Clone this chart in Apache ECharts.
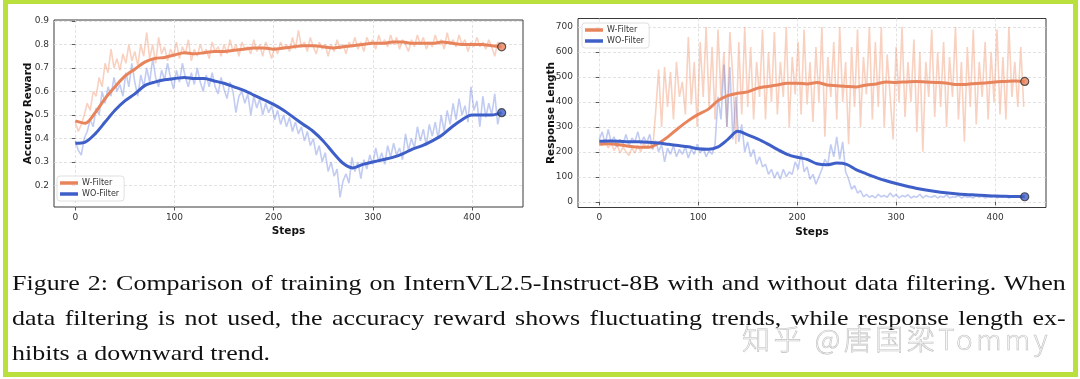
<!DOCTYPE html>
<html>
<head>
<meta charset="utf-8">
<script src="https://cdn.jsdelivr.net/npm/echarts@6/dist/echarts.min.js"></script>
<style>
html,body{margin:0;padding:0;background:#fff;}
#wrap{position:relative;width:1080px;height:379px;overflow:hidden;background:#fff;}
#chart{position:absolute;left:0;top:0;width:1080px;height:379px;}
#frame{position:absolute;left:3px;top:-1px;width:1075px;height:378px;box-sizing:border-box;border:5px solid #b9e03c;pointer-events:none;}
#caption{position:absolute;left:12px;top:265px;width:893px;transform:scaleX(1.18);transform-origin:0 0;font-family:"Liberation Serif","DejaVu Serif",serif;font-size:22px;line-height:35px;color:#111;}
#caption div{white-space:nowrap;}
#caption .j{text-align:justify;text-align-last:justify;}
#wm{position:absolute;left:742px;top:318px;font-family:"Noto Sans CJK SC",sans-serif;font-size:28px;font-weight:300;letter-spacing:3.5px;color:rgba(245,245,245,0.6);-webkit-text-stroke:0.6px rgba(140,140,140,0.55);white-space:nowrap;}
</style>
</head>
<body>
<div id="wrap">
<div id="chart"></div>
<div id="caption">
<div class="j">Figure 2: Comparison of training on InternVL2.5-Instruct-8B with and without data filtering. When</div>
<div class="j">data filtering is not used, the accuracy reward shows fluctuating trends, while response length ex-</div>
<div>hibits a downward trend.</div>
</div>
<div id="wm">知乎 @唐国梁Tommy</div>
<div id="frame"></div>
</div>
<script>
// ---------- data ----------
const RAW_STEP = 3;      // raw curves sampled every 3 steps (0..429)
const SMOOTH_STEP = 10;  // smoothed curves sampled every 10 steps (0..430)
const X_TICKS = [0, 100, 200, 300, 400];
const ACC_TICKS = [0.2, 0.3, 0.4, 0.5, 0.6, 0.7, 0.8, 0.9];
const LEN_TICKS = [0, 100, 200, 300, 400, 500, 600, 700];
const SERIES_NAMES = ['W-Filter', 'WO-Filter'];

const W_ACC_RAW = [
0.47,0.43,0.46,0.50,0.55,0.52,0.60,0.58,0.66,0.62,0.72,0.68,
0.78,0.70,0.74,0.69,0.76,0.72,0.80,0.73,0.77,0.71,0.80,0.75,
0.85,0.74,0.80,0.72,0.83,0.76,0.79,0.73,0.78,0.75,0.81,0.74,
0.79,0.76,0.82,0.73,0.78,0.75,0.80,0.76,0.78,0.74,0.81,0.77,
0.79,0.75,0.80,0.76,0.82,0.77,0.80,0.75,0.81,0.78,0.79,0.76,
0.82,0.77,0.80,0.75,0.81,0.78,0.74,0.79,0.76,0.81,0.78,0.80,
0.77,0.83,0.78,0.86,0.79,0.81,0.77,0.83,0.79,0.76,0.81,0.78,
0.80,0.75,0.80,0.77,0.82,0.78,0.80,0.76,0.81,0.79,0.83,0.78,
0.81,0.77,0.83,0.80,0.82,0.78,0.84,0.80,0.82,0.79,0.84,0.80,
0.83,0.78,0.82,0.80,0.77,0.82,0.79,0.84,0.80,0.83,0.78,0.81,
0.79,0.84,0.80,0.82,0.78,0.85,0.80,0.82,0.79,0.84,0.80,0.82,
0.77,0.81,0.79,0.83,0.79,0.81,0.78,0.82,0.79,0.75,0.81,0.80];

const WO_ACC_RAW = [
0.39,0.35,0.33,0.40,0.43,0.48,0.45,0.53,0.50,0.60,0.55,0.62,
0.58,0.66,0.60,0.63,0.58,0.68,0.62,0.72,0.64,0.58,0.67,0.62,
0.70,0.64,0.74,0.66,0.62,0.69,0.65,0.72,0.66,0.61,0.69,0.64,
0.72,0.66,0.62,0.68,0.63,0.70,0.64,0.60,0.67,0.62,0.68,0.62,
0.59,0.66,0.61,0.57,0.64,0.60,0.51,0.58,0.60,0.55,0.59,0.50,
0.58,0.53,0.57,0.50,0.55,0.51,0.54,0.48,0.52,0.46,0.50,0.45,
0.49,0.43,0.47,0.42,0.45,0.39,0.43,0.37,0.40,0.33,0.37,0.30,
0.34,0.26,0.30,0.24,0.27,0.15,0.22,0.25,0.21,0.32,0.26,0.30,
0.23,0.31,0.27,0.33,0.29,0.36,0.30,0.34,0.29,0.37,0.32,0.38,
0.33,0.36,0.31,0.42,0.35,0.40,0.36,0.45,0.39,0.44,0.37,0.46,
0.41,0.47,0.40,0.50,0.43,0.52,0.46,0.55,0.48,0.57,0.50,0.54,
0.47,0.62,0.52,0.56,0.45,0.58,0.49,0.55,0.50,0.59,0.46,0.52];

const W_ACC_SMOOTH = [
0.475,0.465,0.51,0.57,0.62,0.665,0.695,0.725,0.74,0.745,
0.755,0.765,0.76,0.765,0.77,0.77,0.775,0.78,0.785,0.785,
0.78,0.785,0.79,0.795,0.795,0.79,0.785,0.79,0.795,0.80,
0.805,0.805,0.81,0.81,0.805,0.805,0.805,0.81,0.805,0.80,
0.80,0.80,0.795,0.79];

const WO_ACC_SMOOTH = [
0.38,0.385,0.42,0.47,0.52,0.56,0.59,0.625,0.64,0.65,
0.655,0.66,0.655,0.655,0.645,0.635,0.62,0.605,0.585,0.565,
0.545,0.52,0.49,0.46,0.43,0.39,0.34,0.295,0.275,0.29,
0.30,0.31,0.32,0.335,0.355,0.37,0.39,0.415,0.45,0.48,
0.50,0.50,0.50,0.51];

const W_LEN_RAW = [
240,225,250,215,235,205,230,195,220,200,185,215,
195,225,200,235,215,240,210,360,530,300,540,380,
520,330,560,420,480,350,660,390,560,300,640,420,
700,380,620,330,690,420,600,300,680,500,230,640,
350,700,380,620,330,560,420,690,330,600,400,680,
350,560,420,700,300,580,430,640,350,690,390,560,
320,620,400,700,260,580,420,640,330,700,400,560,
230,620,380,690,300,580,430,700,330,640,380,700,
300,590,420,250,620,400,700,340,560,400,650,280,
600,200,560,420,690,340,600,380,640,300,580,420,
700,330,560,240,620,380,690,310,560,420,640,330,
600,400,690,350,580,330,700,420,560,380,620,380];

const WO_LEN_RAW = [
250,280,230,290,240,260,220,250,230,270,225,255,
240,280,230,260,235,270,210,245,200,230,160,215,
190,225,180,210,190,220,175,210,190,230,195,215,
180,205,190,230,420,330,550,300,540,250,420,240,
310,200,240,180,210,150,180,140,150,110,130,95,
120,90,130,100,120,110,160,130,200,120,140,90,
110,70,100,130,170,150,230,180,260,170,240,120,
90,50,65,35,45,20,30,18,25,15,30,20,
25,18,35,20,30,15,25,20,28,15,22,18,
30,15,25,20,18,25,15,22,18,28,15,20,
18,25,15,22,18,20,15,25,18,22,15,20,
18,25,15,20,18,22,15,20,18,22,15,20];

const W_LEN_SMOOTH = [
230,232,228,222,218,218,235,262,295,325,
350,370,405,425,435,440,455,462,468,475,
475,472,478,468,465,462,460,468,472,480,
478,480,482,480,478,476,470,470,474,476,
480,482,484,482];

const WO_LEN_SMOOTH = [
242,243,242,240,240,238,235,230,225,220,
212,210,220,250,282,268,252,232,210,190,
178,170,152,148,155,150,128,112,97,84,
73,63,54,47,41,36,32,29,27,25,
23,22,21,20];

// ---------- styling ----------
const C_W = '#E8845C', C_WO = '#3F5FC8';
const C_W_RAW = 'rgba(240,145,105,0.42)', C_WO_RAW = 'rgba(85,115,220,0.36)';
const FONT = 'DejaVu Sans';

function pts(arr, step) { return arr.map((v, i) => [i * step, v]); }
function lastPt(arr, step) { return [[(arr.length - 1) * step, arr[arr.length - 1]]]; }

function xAxisFor(gi) {
  return {
    type: 'value', gridIndex: gi, min: -21.5, max: 451.5,
    axisLine: { show: false },
    axisTick: { show: true, inside: false, length: 3.5, lineStyle: { color: '#333', width: 0.8 }, customValues: X_TICKS },
    axisLabel: { customValues: X_TICKS, fontSize: 9, color: '#333', margin: 6, fontFamily: FONT },
    splitLine: { show: true, lineStyle: { color: '#dadada', type: [3, 2], width: 0.8 } },
    name: 'Steps', nameLocation: 'middle', nameGap: 19, nameMoveOverlap: false,
    nameTextStyle: { fontWeight: 'bold', fontSize: 10.5, color: '#111', fontFamily: FONT }
  };
}
function yAxisFor(gi, min, max, ticks, name, gap, fmt) {
  return {
    type: 'value', gridIndex: gi, min: min, max: max,
    axisLine: { show: false },
    axisTick: { show: true, inside: false, length: 3.5, lineStyle: { color: '#333', width: 0.8 }, customValues: ticks },
    axisLabel: { customValues: ticks, fontSize: 9, color: '#333', margin: 5, fontFamily: FONT, formatter: fmt },
    splitLine: { show: true, lineStyle: { color: '#dadada', type: [3, 2], width: 0.8 } },
    name: name, nameLocation: 'middle', nameGap: gap, nameRotate: 90, nameMoveOverlap: false,
    nameTextStyle: { fontWeight: 'bold', fontSize: 10.5, color: '#111', fontFamily: FONT }
  };
}
function seriesFor(gi, wRaw, woRaw, wS, woS) {
  const base = { type: 'line', xAxisIndex: gi, yAxisIndex: gi, showSymbol: false, symbol: 'none', animation: false };
  return [
    Object.assign({}, base, { name: 'W-Filter raw', data: pts(wRaw, RAW_STEP), silent: true, z: 1,
      lineStyle: { color: C_W_RAW, width: 1.6 }, itemStyle: { color: C_W_RAW } }),
    Object.assign({}, base, { name: 'WO-Filter raw', data: pts(woRaw, RAW_STEP), silent: true, z: 2,
      lineStyle: { color: C_WO_RAW, width: 1.6 }, itemStyle: { color: C_WO_RAW } }),
    Object.assign({}, base, { name: SERIES_NAMES[0], data: pts(wS, SMOOTH_STEP), smooth: 0.3, z: 3,
      lineStyle: { color: C_W, width: 3 }, itemStyle: { color: C_W } }),
    Object.assign({}, base, { name: SERIES_NAMES[1], data: pts(woS, SMOOTH_STEP), smooth: 0.3, z: 4,
      lineStyle: { color: C_WO, width: 3 }, itemStyle: { color: C_WO } }),
    { type: 'scatter', xAxisIndex: gi, yAxisIndex: gi, data: lastPt(wS, SMOOTH_STEP), symbolSize: 8, z: 5,
      itemStyle: { color: C_W, borderColor: '#333', borderWidth: 1.2 }, silent: true },
    { type: 'scatter', xAxisIndex: gi, yAxisIndex: gi, data: lastPt(woS, SMOOTH_STEP), symbolSize: 8, z: 5,
      itemStyle: { color: C_WO, borderColor: '#333', borderWidth: 1.2 }, silent: true }
  ];
}
function legendAt(left, top) {
  return {
    data: SERIES_NAMES, left: left, top: top, orient: 'vertical',
    icon: 'rect', itemWidth: 18, itemHeight: 3.5, itemGap: 3,
    padding: [3, 5, 3, 3], borderColor: '#d8d8d8', borderWidth: 0.8, borderRadius: 3,
    backgroundColor: 'rgba(255,255,255,0.85)',
    textStyle: { fontSize: 8, color: '#333', fontFamily: FONT, padding: [0, 0, 0, -1] },
    selectedMode: false
  };
}

const chart = echarts.init(document.getElementById('chart'), null, { renderer: 'canvas' });
chart.setOption({
  animation: false,
  backgroundColor: '#fff',
  grid: [
    { left: 54, top: 20, width: 469, height: 187, show: true, borderColor: '#3a3a3a', borderWidth: 1, backgroundColor: 'transparent' },
    { left: 578, top: 18.5, width: 468, height: 189, show: true, borderColor: '#3a3a3a', borderWidth: 1, backgroundColor: 'transparent' }
  ],
  xAxis: [xAxisFor(0), xAxisFor(1)],
  yAxis: [
    yAxisFor(0, 0.109, 0.904, ACC_TICKS, 'Accuracy Reward', 20, v => Number(v).toFixed(1)),
    yAxisFor(1, -23, 734, LEN_TICKS, 'Response Length', 21, v => String(Math.round(v)))
  ],
  legend: [legendAt(57, 176), legendAt(582, 23)],
  series: [].concat(
    seriesFor(0, W_ACC_RAW, WO_ACC_RAW, W_ACC_SMOOTH, WO_ACC_SMOOTH),
    seriesFor(1, W_LEN_RAW, WO_LEN_RAW, W_LEN_SMOOTH, WO_LEN_SMOOTH)
  )
});
</script>
</body>
</html>
